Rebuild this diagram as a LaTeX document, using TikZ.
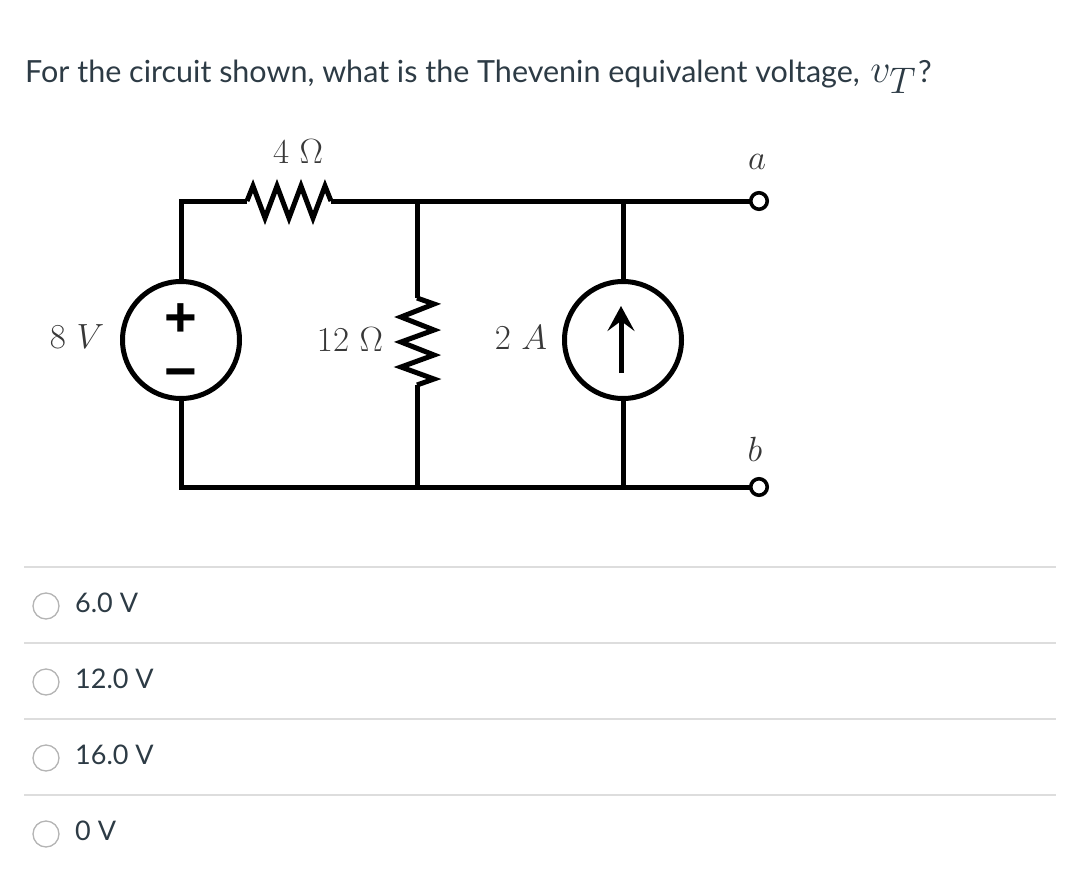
\RequirePackage{fix-cm}
\documentclass[tikz,border=0pt]{standalone}
\usepackage{amsmath}
\usepackage{fontspec}
\usetikzlibrary{arrows.meta}
\newfontfamily\latofont{Lato}
\newfontfamily\markfont{Liberation Sans}
\DeclareMathSizes{30.5}{32}{24}{18}
\DeclareMathSizes{35}{35}{24}{18}
\DeclareMathSizes{40}{40}{37}{24}
\definecolor{inktext}{HTML}{2D3B45}
\definecolor{inklabel}{HTML}{383838}
\definecolor{rulegray}{HTML}{DDDDDD}
\definecolor{radiogray}{HTML}{B4B4B4}
\begin{document}
\begin{tikzpicture}[
		x=1pt,y=-1pt,
		wire/.style={line width=5pt,black,line join=miter},
		srcbox/.style={circle,draw,line width=5pt,fill=white,minimum size=117pt,inner sep=0pt,outer sep=0pt},
		term/.style={circle,draw,line width=3.6pt,fill=white,minimum size=16.5pt,inner sep=0pt,outer sep=0pt},
		lab/.style={inner sep=0pt,text=inklabel,font=\fontsize{35}{38}\selectfont},
		polmark/.style={anchor=base,inner sep=0pt,text height=30pt,text depth=-6pt,font=\markfont\bfseries\fontsize{56}{56}\selectfont},
		opttext/.style={anchor=base west,inner sep=0pt,text=inktext,font=\latofont\fontsize{27}{32}\selectfont},
		radio/.style={circle,draw=radiogray,line width=1.3pt,fill=white,minimum size=26pt,inner sep=0pt},
		optrule/.style={draw=rulegray,line width=1.6pt}]
	\useasboundingbox (0,0) rectangle (1082,878);
	%% question
	\node (title) at (25,82) [anchor=base west,inner sep=0pt,text=inktext,font=\latofont\fontsize{30.5}{36}\selectfont] {For the circuit shown, what is the Thevenin equivalent voltage, \hspace{3pt}{\fontsize{40}{42}\selectfont$v_T$}\hspace{2pt}?};
	%% define points
	\coordinate (tl) at (181,201);
	\coordinate (bl) at (181,487);
	\coordinate (tm) at (417,201);
	\coordinate (bm) at (417,487);
	\coordinate (tr) at (623,201);
	\coordinate (br) at (623,487);
	\coordinate (r1in) at (247,201);
	\coordinate (r1out) at (331,201);
	\coordinate (r2in) at (417,298);
	\coordinate (r2out) at (417,385);
	\node (vs) at (181,340) [srcbox] {};
	\node (cs) at (623,340) [srcbox] {};
	\node (ta) at (759,201) [term] {};
	\node (tb) at (759,487) [term] {};
	%% define wires
	\draw[wire] (vs.north) -- (tl) -- (r1in);
	\draw[wire] (r1out) -- (tm) -- (tr) -- (ta.west);
	\draw[wire] (vs.south) -- (bl) -- (bm) -- (br) -- (tb.west);
	\draw[wire] (tm) -- (r2in);
	\draw[wire] (r2out) -- (bm);
	\draw[wire] (cs.north) -- (tr);
	\draw[wire] (cs.south) -- (br);
	%% define resistors
	\draw[wire] (r1in) -- ++(6,-15) -- ++(12,32) -- ++(12,-32) -- ++(12,32) -- ++(12,-32) -- ++(12,32) -- ++(12,-32) -- (r1out);
	\draw[wire] (r2in) -- ++(17,6) -- ++(-33,13) -- ++(33,13) -- ++(-33,12) -- ++(33,13) -- ++(-33,12) -- ++(33,12) -- (r2out);
	%% define source marks
	\node (plus) at (181,336) [polmark] {+};
	\node (minus) at (181,390) [polmark] {−};
	\coordinate (arrfrom) at (621,373);
	\coordinate (arrto) at (621,306);
	\draw[wire,-{Stealth[length=25pt,width=27pt,inset=10pt]}] (arrfrom) -- (arrto);
	%% define labels
	\node (lr1) at (298,152) [lab] {$4\ \Omega$};
	\node (lr2) at (350,340) [lab] {$12\ \Omega$};
	\node (lvs) at (77,337) [lab] {$8\ V$};
	\node (lcs) at (521,338) [lab] {$2\ A$};
	\node (la) at (757,162) [lab] {$a$};
	\node (lb) at (755,449) [lab] {$b$};
	%% define answers
	\foreach \ypos/\name/\val in {567/a/6.0 V,643/b/12.0 V,719/c/16.0 V,795/d/0 V}{
		\draw[optrule] (24,\ypos) -- (1056,\ypos);
		\node (radio\name) at (46,\ypos+39) [radio] {};
		\node (opt\name) at (75,\ypos+45) [opttext] {\val};
	}
\end{tikzpicture}
\end{document}
